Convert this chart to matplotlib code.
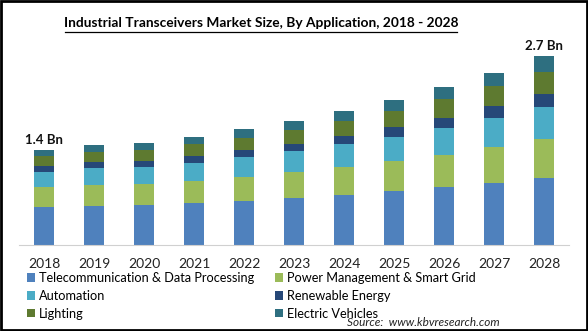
"""Industrial transceivers market size, stacked by application."""

import matplotlib

matplotlib.use("Agg")
import matplotlib.pyplot as plt
from matplotlib.patches import Rectangle
import numpy as np

years = ["2018", "2019", "2020", "2021", "2022", "2023",
         "2024", "2025", "2026", "2027", "2028"]

# USD billion per application
telecom = [0.551, 0.565, 0.580, 0.609, 0.638, 0.681, 0.725, 0.783, 0.841, 0.899, 0.971]
power_grid = [0.290, 0.304, 0.304, 0.319, 0.348, 0.377, 0.406, 0.435, 0.464, 0.522, 0.565]
automation = [0.217, 0.246, 0.246, 0.261, 0.290, 0.304, 0.333, 0.348, 0.391, 0.420, 0.464]
renewable = [0.087, 0.087, 0.087, 0.101, 0.101, 0.101, 0.116, 0.145, 0.145, 0.174, 0.188]
lighting = [0.145, 0.145, 0.159, 0.174, 0.174, 0.203, 0.217, 0.232, 0.275, 0.290, 0.319]
electric_vehicles = [0.087, 0.101, 0.101, 0.101, 0.130, 0.130, 0.145, 0.159, 0.174, 0.188, 0.232]

segments = [
    ("Telecommunication & Data Processing", telecom, "#4F81BD"),
    ("Power Management & Smart Grid", power_grid, "#9BBB59"),
    ("Automation", automation, "#4BACC6"),
    ("Renewable Energy", renewable, "#264878"),
    ("Lighting", lighting, "#5E7A30"),
    ("Electric Vehicles", electric_vehicles, "#2E6F80"),
]

plt.rcParams["font.family"] = ["Lato", "DejaVu Sans"]

fig = plt.figure(figsize=(5.88, 3.31), dpi=100)
ax = fig.add_axes([19 / 588, 1 - 245 / 331, 550 / 588, 205 / 331])

x = np.arange(len(years))
bottom = np.zeros(len(years))
handles = []
for name, vals, color in segments:
    bars = ax.bar(x, vals, width=0.4, bottom=bottom, color=color, label=name)
    handles.append(bars)
    bottom += np.asarray(vals)

totals = bottom
for i in (0, len(years) - 1):
    ax.text(x[i], totals[i] + 0.06, f"{totals[i]:.1f} Bn", ha="center", va="bottom",
            fontsize=9.5, fontweight="bold", color="#111111")

ax.set_xlim(-0.5, 10.5)
ax.set_ylim(0, 2.97)
ax.set_xticks(x)
ax.set_xticklabels(years, fontsize=10, color="#222222")
ax.tick_params(axis="x", length=0, pad=9)
ax.set_yticks([])
for side in ("top", "right", "left"):
    ax.spines[side].set_visible(False)
ax.spines["bottom"].set_color("#d0d0d0")

fig.text(261 / 588, 1 - 23 / 331,
         "Industrial Transceivers Market Size, By Application, 2018 - 2028",
         ha="center", va="center", fontsize=9.9, fontweight="bold")
# underline beneath the title
fig.add_artist(plt.Line2D([65 / 588, 457 / 588], [1 - 32 / 331, 1 - 32 / 331],
                          color="black", linewidth=0.9))

# legend fills column-wise, so order entries to read across rows
order = [0, 2, 4, 1, 3, 5]
fig.legend(handles=[handles[i] for i in order],
           labels=[segments[i][0] for i in order], ncol=2,
           loc="upper left", bbox_to_anchor=(27 / 588, 1 - 272 / 331),
           frameon=False, fontsize=9.2, handlelength=0.65, handleheight=0.65,
           handletextpad=0.3, columnspacing=1.6, labelspacing=0.45,
           borderaxespad=0, borderpad=0)

fig.text(500 / 588, 1 - 323 / 331, "Source:  www.kbvresearch.com",
         ha="right", va="center", fontsize=8.5, style="italic", color="#222222")

fig.add_artist(Rectangle((0.002, 0.003), 0.996, 0.994, transform=fig.transFigure,
                         fill=False, edgecolor="black", linewidth=2))

fig.savefig("out.png", dpi=100)
plt.close(fig)
